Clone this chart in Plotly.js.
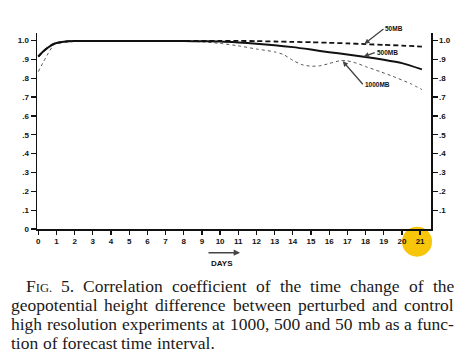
<!DOCTYPE html>
<html>
<head>
<meta charset="utf-8">
<script src="https://cdn.plot.ly/plotly-3.0.1.min.js"></script>
<style>html,body{margin:0;padding:0;background:#fff;}#chart{width:474px;height:362px;}</style>
</head>
<body>
<div id="chart"></div>
<script>
// Days (forecast time interval)
const days50   = [0, 0.25, 0.5, 0.75, 1, 1.5, 2, 3, 4, 5, 6, 7, 8, 9, 10, 11, 12, 13, 14, 15, 16, 17, 18, 19, 20, 21.1];
const corr50   = [0.915, 0.94, 0.96, 0.977, 0.987, 0.995, 0.997, 0.998, 0.998, 0.998, 0.998, 0.998, 0.998, 0.998, 0.998, 0.998, 0.997, 0.995, 0.993, 0.991, 0.988, 0.985, 0.981, 0.977, 0.973, 0.968];
const days500  = [0, 0.25, 0.5, 0.75, 1, 1.5, 2, 3, 4, 5, 6, 7, 8, 9, 10, 11, 12, 13, 14, 15, 16, 17, 18, 19, 20, 21.1];
const corr500  = [0.915, 0.94, 0.96, 0.977, 0.987, 0.995, 0.997, 0.998, 0.998, 0.998, 0.998, 0.998, 0.997, 0.996, 0.995, 0.99, 0.983, 0.975, 0.965, 0.952, 0.938, 0.926, 0.913, 0.898, 0.88, 0.847];
const days1000 = [0, 0.9, 1.5, 2, 3, 4, 5, 6, 7, 8, 9, 10, 11, 12, 13, 13.5, 14, 14.5, 15, 15.5, 16, 16.6, 17, 17.5, 18, 18.8, 19.5, 20.5, 21.1];
const corr1000 = [0.835, 0.98, 0.99, 0.995, 0.996, 0.996, 0.996, 0.996, 0.996, 0.996, 0.993, 0.985, 0.972, 0.955, 0.94, 0.925, 0.895, 0.872, 0.864, 0.866, 0.878, 0.893, 0.892, 0.88, 0.862, 0.835, 0.81, 0.77, 0.74];

const yTickVals   = [0, 0.1, 0.2, 0.3, 0.4, 0.5, 0.6, 0.7, 0.8, 0.9, 1.0];
const yTickLeft   = ['0', '.1', '.2', '.3', '.4', '.5', '.6', '.7', '.8', '.9', '1.0'];
const yTickValsR  = [0.1, 0.2, 0.3, 0.4, 0.5, 0.6, 0.7, 0.8, 0.9, 1.0];
const yTickRight  = ['.1', '.2', '.3', '.4', '.5', '.6', '.7', '.8', '.9', '1.0'];
const xTickVals   = [0,1,2,3,4,5,6,7,8,9,10,11,12,13,14,15,16,17,18,19,20,21];

const captionLines = [
  ['FIG.', '5.', 'Correlation', 'coefficient', 'of', 'the', 'time', 'change', 'of', 'the'],
  ['geopotential', 'height', 'difference', 'between', 'perturbed', 'and', 'control'],
  ['high', 'resolution', 'experiments', 'at', '1000,', '500', 'and', '50', 'mb', 'as', 'a', 'func-'],
  ['tion', 'of', 'forecast', 'time', 'interval.']
];

const tickFont = {family: 'Liberation Sans, Arial, sans-serif', size: 8, color: '#111', weight: 'bold'};
const lblFont = {family: 'Liberation Sans, Arial, sans-serif', size: 6.5, color: '#111', weight: 'bold'};
const CAP_FAMILY = 'Liberation Serif';
const CAP_SIZE = 17.5;
const SC_SIZE = 12.5;

const traces = [
  {x: days1000, y: corr1000, mode: 'lines', line: {color: '#555', width: 1, dash: 'dot', shape: 'spline', smoothing: 0.6}, hoverinfo: 'skip'},
  {x: days500,  y: corr500,  mode: 'lines', line: {color: '#111', width: 2, shape: 'spline', smoothing: 0.6}, hoverinfo: 'skip'},
  {x: days50,   y: corr50,   mode: 'lines', line: {color: '#111', width: 1.8, dash: '5px,3px', shape: 'spline', smoothing: 0.6}, hoverinfo: 'skip'},
  {x: [0], y: [0], mode: 'none', yaxis: 'y2', hoverinfo: 'skip'}
];

const W = 394, H = 196, L = 37, T = 33;
function px(x){ return (x - L) / W; }
function py(y){ return (T + H - y) / H; }

const annotations = [
  {x: 17.94, y: 0.982, xref: 'x', yref: 'y', text: '50MB', showarrow: true, arrowhead: 2, arrowsize: 0.8, arrowwidth: 1.3, ax: 19, ay: -15, font: lblFont, xanchor: 'left', yanchor: 'middle'},
  {x: 17.9, y: 0.915, xref: 'x', yref: 'y', text: '500MB', showarrow: true, arrowhead: 2, arrowsize: 0.8, arrowwidth: 1.3, ax: 11, ay: -4, font: lblFont, xanchor: 'left', yanchor: 'middle'},
  {x: 16.75, y: 0.89, xref: 'x', yref: 'y', text: '1000MB', showarrow: true, arrowhead: 2, arrowsize: 0.8, arrowwidth: 1.3, ax: 20, ay: 23, font: lblFont, xanchor: 'left', yanchor: 'middle'},
  {x: px(222), y: py(263), xref: 'paper', yref: 'paper', xanchor: 'center', yanchor: 'middle', text: 'DAYS', showarrow: false, font: {family: 'Liberation Sans, Arial, sans-serif', size: 8, color: '#111', weight: 'bold'}},
  {x: px(240), y: py(252.7), xref: 'paper', yref: 'paper', text: '', showarrow: true, arrowhead: 2, arrowsize: 0.9, arrowwidth: 1.4, ax: -33, ay: 0, axref: 'pixel', ayref: 'pixel'}
];

// justified caption: measure words and spread them across the line
const ctx = document.createElement('canvas').getContext('2d');
function measure(word){
  if (word === 'FIG.') {
    ctx.font = CAP_SIZE + 'px "' + CAP_FAMILY + '"';
    const a = ctx.measureText('F').width;
    ctx.font = SC_SIZE + 'px "' + CAP_FAMILY + '"';
    return a + ctx.measureText('IG.').width;
  }
  ctx.font = CAP_SIZE + 'px "' + CAP_FAMILY + '"';
  return ctx.measureText(word).width;
}
ctx.font = CAP_SIZE + 'px "' + CAP_FAMILY + '"';
const spaceW = ctx.measureText(' ').width;
const capX0 = [25, 10, 10, 10];
const capX1 = [453, 453, 453, null];
const capY = [286, 305, 324, 343];
captionLines.forEach((words, i) => {
  const widths = words.map(measure);
  const total = widths.reduce((a, b) => a + b, 0);
  let gap = spaceW;
  if (capX1[i] !== null) gap = (capX1[i] - capX0[i] - total) / (words.length - 1);
  let x = capX0[i];
  words.forEach((w, j) => {
    const txt = w === 'FIG.' ? 'F<span style="font-size:' + SC_SIZE + 'px">IG.</span>' : w;
    annotations.push({x: px(x), y: py(capY[i]), xref: 'paper', yref: 'paper', xanchor: 'left', yanchor: 'middle', text: txt, showarrow: false,
      borderpad: 0, font: {family: CAP_FAMILY + ', Times New Roman, serif', size: CAP_SIZE, color: '#1a1a1a'}});
    x += widths[j] + gap;
  });
});

const layout = {
  width: 474, height: 362,
  margin: {l: L, r: 474 - L - W, t: T, b: 362 - T - H},
  paper_bgcolor: '#fff', plot_bgcolor: 'rgba(0,0,0,0)',
  showlegend: false,
  xaxis: {range: [-0.07, 21.6], tickvals: xTickVals, ticktext: xTickVals.map(String), ticks: 'outside', ticklen: 4, tickwidth: 1.3, tickcolor: '#111',
    showline: true, linecolor: '#111', linewidth: 1.5, showgrid: false, zeroline: false, tickfont: tickFont},
  yaxis: {range: [0, 1.04], tickvals: yTickVals, ticktext: yTickLeft, ticks: 'outside', ticklen: 5, tickwidth: 1.3, tickcolor: '#111',
    showline: true, linecolor: '#111', linewidth: 1.5, showgrid: false, zeroline: false, tickfont: tickFont},
  yaxis2: {range: [0, 1.04], overlaying: 'y', side: 'right', tickvals: yTickValsR, ticktext: yTickRight, ticks: 'outside', ticklen: 5, tickwidth: 1.3, tickcolor: '#111',
    showline: true, linecolor: '#111', linewidth: 1.5, showgrid: false, zeroline: false, tickfont: tickFont},
  annotations: annotations,
  shapes: [
    {type: 'circle', xref: 'paper', yref: 'paper', x0: px(402), x1: px(432), y0: py(256.7), y1: py(226.7), fillcolor: 'rgb(247,197,10)', line: {width: 0}, layer: 'below'}
  ]
};

Plotly.newPlot('chart', traces, layout, {staticPlot: true, displayModeBar: false});
</script>
</body>
</html>
